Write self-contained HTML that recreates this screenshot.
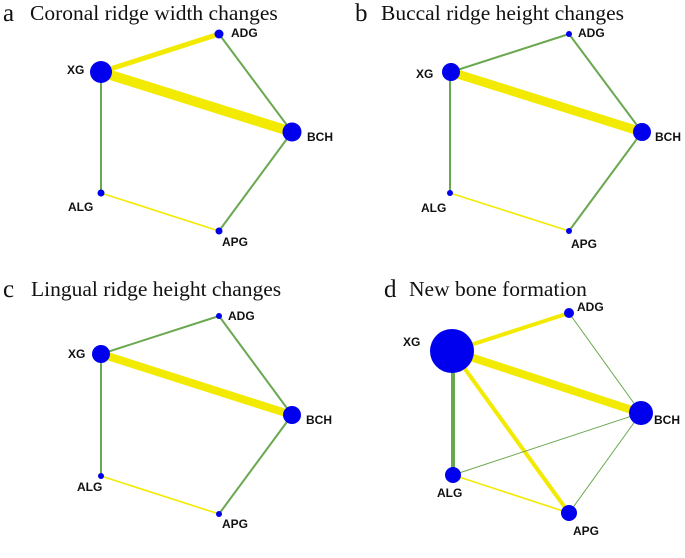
<!DOCTYPE html>
<html><head><meta charset="utf-8"><style>
html,body{margin:0;padding:0;background:#fff;width:685px;height:558px;overflow:hidden}
svg text.t{font-family:"Liberation Serif",serif;font-size:21.5px;fill:#111}
svg text.l{font-family:"Liberation Serif",serif;font-size:25px;fill:#111}
svg text.n{font-family:"Liberation Sans",sans-serif;font-size:12px;font-weight:bold;fill:#111}
</style></head><body>
<svg width="685" height="558" viewBox="0 0 685 558" xmlns="http://www.w3.org/2000/svg">
<g stroke-linecap="butt">
<!-- a -->
<text class="l" x="3" y="21">a</text><text class="t" x="30" y="20">Coronal ridge width changes</text>
<line x1="101" y1="72" x2="219" y2="34" stroke="#f2ea00" stroke-width="5"/>
<line x1="101" y1="72" x2="292" y2="132" stroke="#f2ea00" stroke-width="10"/>
<line x1="219" y1="34" x2="292" y2="132" stroke="#6aa84f" stroke-width="2"/>
<line x1="101" y1="72" x2="101" y2="193" stroke="#6aa84f" stroke-width="2"/>
<line x1="101" y1="193" x2="219" y2="231" stroke="#f2ea00" stroke-width="1.6"/>
<line x1="219" y1="231" x2="292" y2="132" stroke="#6aa84f" stroke-width="2"/>
<circle cx="101" cy="72" r="11" fill="#0000ee"/><circle cx="219" cy="34" r="4.5" fill="#0000ee"/>
<circle cx="292" cy="132" r="9.5" fill="#0000ee"/><circle cx="101" cy="193" r="3.5" fill="#0000ee"/>
<circle cx="219" cy="231" r="3.5" fill="#0000ee"/>
<text class="n" x="67" y="74">XG</text><text class="n" x="231" y="37">ADG</text>
<text class="n" x="307" y="141">BCH</text><text class="n" x="68" y="211">ALG</text><text class="n" x="222" y="246">APG</text>
<!-- b -->
<text class="l" x="355" y="21">b</text><text class="t" x="381" y="20">Buccal ridge height changes</text>
<line x1="451" y1="72" x2="569" y2="34" stroke="#6aa84f" stroke-width="2"/>
<line x1="451" y1="72" x2="642" y2="132" stroke="#f2ea00" stroke-width="9"/>
<line x1="569" y1="34" x2="642" y2="132" stroke="#6aa84f" stroke-width="2"/>
<line x1="450" y1="72" x2="450" y2="193" stroke="#6aa84f" stroke-width="2"/>
<line x1="450" y1="193" x2="569" y2="231" stroke="#f2ea00" stroke-width="1.6"/>
<line x1="569" y1="231" x2="642" y2="132" stroke="#6aa84f" stroke-width="2"/>
<circle cx="451" cy="72" r="9" fill="#0000ee"/><circle cx="569" cy="34" r="3" fill="#0000ee"/>
<circle cx="642" cy="132" r="9" fill="#0000ee"/><circle cx="450" cy="193" r="3" fill="#0000ee"/>
<circle cx="569" cy="231" r="3" fill="#0000ee"/>
<text class="n" x="416" y="78">XG</text><text class="n" x="578" y="37">ADG</text>
<text class="n" x="655" y="141">BCH</text><text class="n" x="421" y="212">ALG</text><text class="n" x="571" y="248">APG</text>
<!-- c -->
<text class="l" x="3" y="297">c</text><text class="t" x="31" y="296">Lingual ridge height changes</text>
<line x1="101" y1="354" x2="219" y2="316" stroke="#6aa84f" stroke-width="2"/>
<line x1="101" y1="354" x2="292" y2="415" stroke="#f2ea00" stroke-width="8"/>
<line x1="219" y1="316" x2="292" y2="415" stroke="#6aa84f" stroke-width="2"/>
<line x1="101" y1="354" x2="101" y2="476" stroke="#6aa84f" stroke-width="2"/>
<line x1="101" y1="476" x2="219" y2="514" stroke="#f2ea00" stroke-width="1.6"/>
<line x1="219" y1="514" x2="292" y2="415" stroke="#6aa84f" stroke-width="2"/>
<circle cx="101" cy="354" r="9" fill="#0000ee"/><circle cx="219" cy="316" r="3" fill="#0000ee"/>
<circle cx="292" cy="415" r="9" fill="#0000ee"/><circle cx="101" cy="476" r="3" fill="#0000ee"/>
<circle cx="219" cy="514" r="3" fill="#0000ee"/>
<text class="n" x="68" y="358">XG</text><text class="n" x="228" y="320">ADG</text>
<text class="n" x="306" y="424">BCH</text><text class="n" x="77" y="491">ALG</text><text class="n" x="222" y="528">APG</text>
<!-- d -->
<text class="l" x="384" y="297">d</text><text class="t" x="409" y="296">New bone formation</text>
<line x1="452" y1="351" x2="569" y2="313" stroke="#f2ea00" stroke-width="4"/>
<line x1="452" y1="351" x2="641" y2="413" stroke="#f2ea00" stroke-width="8"/>
<line x1="452" y1="351" x2="569" y2="513" stroke="#f2ea00" stroke-width="4"/>
<line x1="453" y1="351" x2="453" y2="475" stroke="#6aa84f" stroke-width="4"/>
<line x1="569" y1="313" x2="641" y2="413" stroke="#6aa84f" stroke-width="1"/>
<line x1="453" y1="475" x2="641" y2="413" stroke="#6aa84f" stroke-width="1"/>
<line x1="569" y1="513" x2="641" y2="413" stroke="#6aa84f" stroke-width="1"/>
<line x1="453" y1="475" x2="569" y2="513" stroke="#f2ea00" stroke-width="1.6"/>
<circle cx="452" cy="351" r="22" fill="#0000ee"/><circle cx="569" cy="313" r="5" fill="#0000ee"/>
<circle cx="641" cy="413" r="12" fill="#0000ee"/><circle cx="453" cy="475" r="8" fill="#0000ee"/>
<circle cx="569" cy="513" r="8" fill="#0000ee"/>
<text class="n" x="403" y="346">XG</text><text class="n" x="577" y="311">ADG</text>
<text class="n" x="654" y="424">BCH</text><text class="n" x="437" y="497">ALG</text><text class="n" x="573" y="535">APG</text>
</g>
</svg>
</body></html>
